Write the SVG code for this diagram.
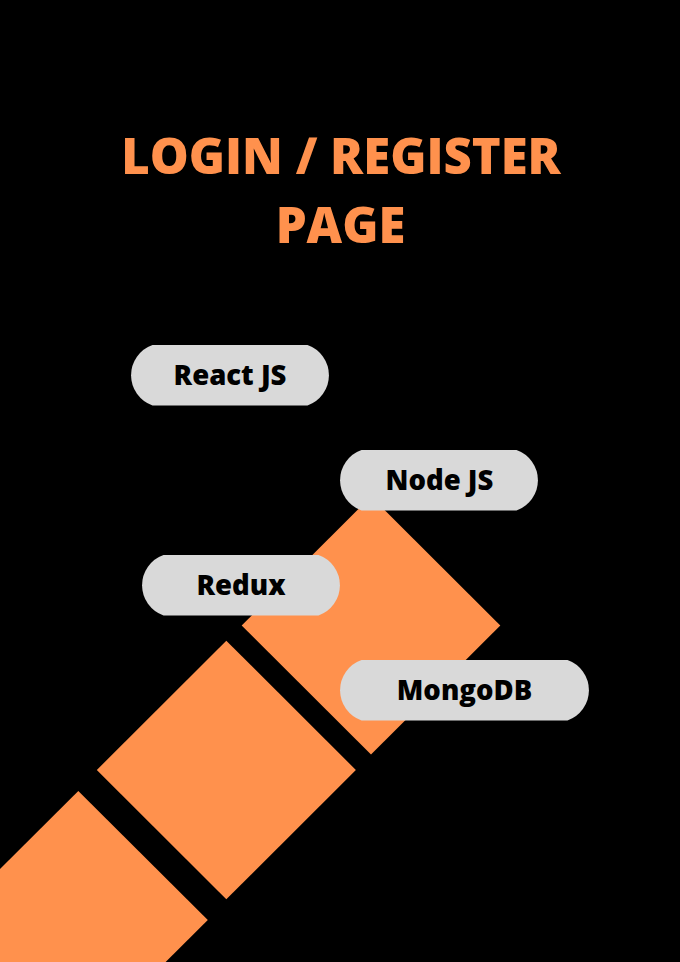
<svg xmlns="http://www.w3.org/2000/svg" width="680" height="962" viewBox="0 0 680 962">
<style>
.d{fill:#ff914d}
.p{fill:#d9d9d9}
.t{font-family:"Open Sans","Noto Sans",sans-serif;font-weight:800;text-anchor:middle}
.l{font-size:27.5px;fill:#000}
.h{font-size:49px;fill:#ff914d}
</style>
<rect width="680" height="962" fill="#000"/>
<g id="title"><text class="t h" x="341" y="174">LOGIN / REGISTER</text><text class="t h" x="340.500" y="243">PAGE</text></g>
<g id="shapes">
<polygon class="d" points="371,496.5 500.3,625.500 371,754.500 241.7,625.500"/>
<polygon class="d" points="226.3,640.7 355.9,770 226.3,899.3 96.8,770"/>
<polygon class="d" points="78.3,791 207.8,920 78.3,1049 -51,920"/>
</g>
<g id="react"><path class="p" d="M152.500,345H307.500A32 32 0 0 1 307.500,405.400H152.500A32 32 0 0 1 152.500,345Z"/><text class="t l" x="230" y="385">React JS</text></g>
<g id="node"><path class="p" d="M361.500,450H516.500A32 32 0 0 1 516.500,510.400H361.500A32 32 0 0 1 361.500,450Z"/><text class="t l" x="439.500" y="490">Node JS</text></g>
<g id="redux"><path class="p" d="M163.500,555H318.500A32 32 0 0 1 318.500,615.400H163.500A32 32 0 0 1 163.500,555Z"/><text class="t l" x="241" y="595">Redux</text></g>
<g id="mongo"><path class="p" d="M361.500,660H567.500A32 32 0 0 1 567.500,720.400H361.500A32 32 0 0 1 361.500,660Z"/><text class="t l" x="464.500" y="700">MongoDB</text></g>
<g id="connectors"></g>
</svg>
